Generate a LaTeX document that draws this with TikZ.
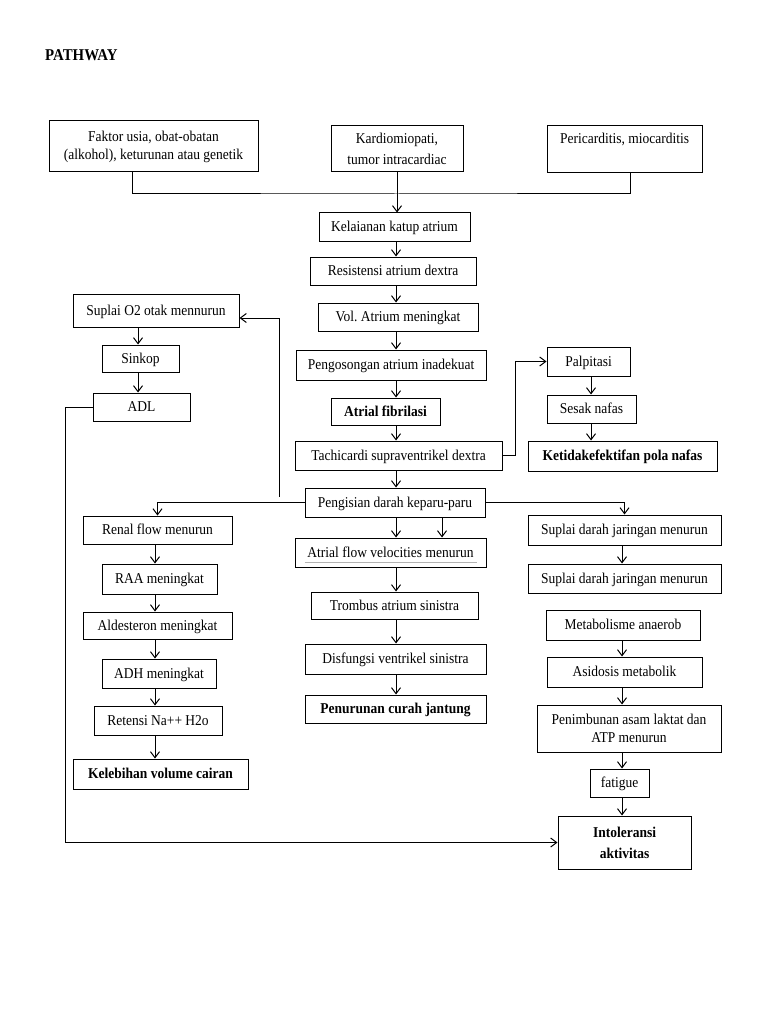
\documentclass[tikz,border=0pt]{standalone}
\usepackage{fontspec}
\setmainfont{Liberation Serif}[FakeStretch=0.9]
\usepackage{tikz}
\usetikzlibrary{arrows.meta, positioning}
\tikzset{
    kotak/.style={
        rectangle, draw, line width=1pt,
        inner sep=2pt,
        minimum height=28pt,
        font=\fontsize{15}{18}\selectfont,
        align=center
    },
    box/.style={
        kotak,
        text height=12pt, text depth=2.5pt
    },
    boldbox/.style={
        box,
        font=\fontsize{15}{18}\selectfont\bfseries
    },
    conn/.style={
        line width=1pt,
        -{Straight Barb[length=6pt, width=9pt]},
    },
    garis/.style={line width=1pt},
}

\begin{document}
\begin{tikzpicture}[x=1pt, y=-1pt]
    \useasboundingbox (0,0) rectangle (768,1024);
    % Judul
    \node[anchor=west, inner sep=0pt, font=\fontsize{16.5}{18}\selectfont\bfseries] (judul) at (45,55) {PATHWAY};

    % Penyebab
    \node[kotak, minimum width=209pt, minimum height=51pt] (faktor) at (153.5,146.5) {Faktor usia, obat-obatan\\(alkohol), keturunan atau genetik};
    \node[kotak, minimum width=132pt, minimum height=46pt] (kardio) at (397,149) {Kardiomiopati,\\[3pt]tumor intracardiac};
    \node[kotak, minimum width=155pt, minimum height=47pt] (perikard) at (624.5,149.5) {Pericarditis, miocarditis\\ \strut};

    % Kolom tengah
    \node[box, minimum width=151pt] (kelainan) at (394.5,227) {Kelaianan katup atrium};
    \node[box, minimum width=166pt, below=15pt of kelainan, xshift=-1.5pt] (resistensi) {Resistensi atrium dextra};
    \node[box, minimum width=160pt, below=17pt of resistensi, xshift=5pt] (vol) {Vol.\ Atrium meningkat};
    \node[box, minimum width=190pt, minimum height=30pt, below=18pt of vol, xshift=-7pt] (pengosongan) {Pengosongan atrium inadekuat};
    \node[boldbox, minimum width=109pt, minimum height=27pt, below=17pt of pengosongan, xshift=-5.5pt] (fibrilasi) {Atrial fibrilasi};
    \node[box, minimum width=207pt, minimum height=29pt, below=15pt of fibrilasi, xshift=13pt] (tachi) {Tachicardi supraventrikel dextra};
    \node[box, minimum width=180pt, minimum height=29pt, below=17pt of tachi, xshift=-3.5pt] (pengisian) {Pengisian darah keparu-paru};
    \node[box, minimum width=191pt, minimum height=29pt, below=20pt of pengisian, xshift=-4.5pt] (atrialflow) {Atrial flow velocities menurun};
    \node[box, minimum width=167pt, minimum height=27pt, below=24pt of atrialflow, xshift=4pt] (trombus) {Trombus atrium sinistra};
    \node[box, minimum width=181pt, minimum height=30pt, below=24pt of trombus, xshift=1pt] (disfungsi) {Disfungsi ventrikel sinistra};
    \node[boldbox, minimum width=181pt, below=20pt of disfungsi] (penurunan) {Penurunan curah jantung};

    % Kolom kiri
    \node[box, minimum width=166pt, minimum height=33pt] (otak) at (156,310.5) {Suplai O2 otak mennurun};
    \node[box, minimum width=77pt, minimum height=27pt, below=17pt of otak, xshift=-15.5pt] (sinkop) {Sinkop};
    \node[box, minimum width=97pt, below=20pt of sinkop, xshift=1pt] (adl) {ADL};
    \node[box, minimum width=149pt] (renal) at (157.5,530) {Renal flow menurun};
    \node[box, minimum width=115pt, minimum height=30pt, below=19pt of renal, xshift=2pt] (raa) {RAA meningkat};
    \node[box, minimum width=149pt, minimum height=27pt, below=17pt of raa, xshift=-2pt] (aldosteron) {Aldesteron meningkat};
    \node[box, minimum width=114pt, minimum height=29pt, below=19pt of aldosteron, xshift=1.5pt] (adh) {ADH meningkat};
    \node[box, minimum width=128pt, minimum height=29pt, below=17pt of adh, xshift=-1pt] (retensi) {Retensi Na++ H2o};
    \node[boldbox, minimum width=175pt, minimum height=30pt, below=23pt of retensi, xshift=2.5pt] (kelebihan) {Kelebihan volume cairan};

    % Kolom kanan
    \node[box, minimum width=83pt, minimum height=29pt] (palpitasi) at (588.5,361.5) {Palpitasi};
    \node[box, minimum width=89pt, below=18pt of palpitasi, xshift=3pt] (sesak) {Sesak nafas};
    \node[boldbox, minimum width=189pt, minimum height=30pt, below=17pt of sesak, xshift=31pt] (ketidak) {Ketidakefektifan pola nafas};
    \node[box, minimum width=193pt, minimum height=30pt] (jaringan1) at (624.5,530) {Suplai darah jaringan menurun};
    \node[box, minimum width=193pt, minimum height=29pt, below=18pt of jaringan1] (jaringan2) {Suplai darah jaringan menurun};
    \node[box, minimum width=154pt, minimum height=30pt, below=16pt of jaringan2, xshift=-1.5pt] (metabolisme) {Metabolisme anaerob};
    \node[box, minimum width=155pt, minimum height=30pt, below=16pt of metabolisme, xshift=1.5pt] (asidosis) {Asidosis metabolik};
    \node[kotak, minimum width=184pt, minimum height=47pt, below=17pt of asidosis, xshift=4.5pt] (penimbunan) {Penimbunan asam laktat dan\\ATP menurun};
    \node[box, minimum width=59pt, below=16pt of penimbunan, xshift=-9.5pt] (fatigue) {fatigue};
    \node[kotak, font=\fontsize{15}{18}\selectfont\bfseries, minimum width=133pt, minimum height=53pt, below=18pt of fatigue, xshift=5pt] (intoleransi) {Intoleransi\\[3pt]aktivitas};

    % Garis kolom
    \coordinate (tengah) at (396,0);
    \coordinate (tengah2) at (442,0);
    \coordinate (kiri) at (155,0);
    \coordinate (kiriatas) at (138,0);
    \coordinate (kanan) at (622,0);
    \coordinate (kananatas) at (591,0);
    \coordinate (gabung) at (397,194);
    \coordinate (cabang) at (279,496.5);

    % Penyebab ke kelainan
    \draw[garis] ([xshift=-21.5pt]faktor.south) |- (gabung) -| ([xshift=5.5pt]perikard.south);
    \draw[conn] (kardio.south) -- (kardio.south |- kelainan.north);

    % Alur tengah
    \draw[conn] (kelainan.south -| tengah) -- (resistensi.north -| tengah);
    \draw[conn] (resistensi.south -| tengah) -- (vol.north -| tengah);
    \draw[conn] (vol.south -| tengah) -- (pengosongan.north -| tengah);
    \draw[conn] (pengosongan.south -| tengah) -- (fibrilasi.north -| tengah);
    \draw[conn] (fibrilasi.south -| tengah) -- (tachi.north -| tengah);
    \draw[conn] (tachi.south -| tengah) -- (pengisian.north -| tengah);
    \draw[conn] (pengisian.south -| tengah) -- (atrialflow.north -| tengah);
    \draw[conn] (pengisian.south -| tengah2) -- (atrialflow.north -| tengah2);
    \draw[conn] (atrialflow.south -| tengah) -- (trombus.north -| tengah);
    \draw[conn] (trombus.south -| tengah) -- (disfungsi.north -| tengah);
    \draw[conn] (disfungsi.south -| tengah) -- (penurunan.north -| tengah);
    \draw[black!30, line width=1.2pt] ([xshift=10pt, yshift=5pt]atrialflow.south west) -- ([xshift=-10pt, yshift=5pt]atrialflow.south east);

    % Cabang
    \draw[conn] (tachi.east) -- ++(13,0) |- (palpitasi.west);
    \draw[conn] (pengisian.west) -| (renal.north);
    \draw[conn] (pengisian.east) -| (jaringan1.north);
    \draw[conn] (cabang) |- ([yshift=-7.5pt]otak.east);
    \draw[conn] (adl.west) -- ++(-27,0) |- (intoleransi.west);

    % Alur kiri
    \draw[conn] (otak.south -| kiriatas) -- (sinkop.north -| kiriatas);
    \draw[conn] (sinkop.south -| kiriatas) -- (adl.north -| kiriatas);
    \draw[conn] (renal.south -| kiri) -- (raa.north -| kiri);
    \draw[conn] (raa.south -| kiri) -- (aldosteron.north -| kiri);
    \draw[conn] (aldosteron.south -| kiri) -- (adh.north -| kiri);
    \draw[conn] (adh.south -| kiri) -- (retensi.north -| kiri);
    \draw[conn] (retensi.south -| kiri) -- (kelebihan.north -| kiri);

    % Alur kanan
    \draw[conn] (palpitasi.south -| kananatas) -- (sesak.north -| kananatas);
    \draw[conn] (sesak.south -| kananatas) -- (ketidak.north -| kananatas);
    \draw[conn] (jaringan1.south -| kanan) -- (jaringan2.north -| kanan);
    \draw[conn] (metabolisme.south -| kanan) -- (asidosis.north -| kanan);
    \draw[conn] (asidosis.south -| kanan) -- (penimbunan.north -| kanan);
    \draw[conn] (penimbunan.south -| kanan) -- (fatigue.north -| kanan);
    \draw[conn] (fatigue.south -| kanan) -- (intoleransi.north -| kanan);

\end{tikzpicture}
\end{document}
